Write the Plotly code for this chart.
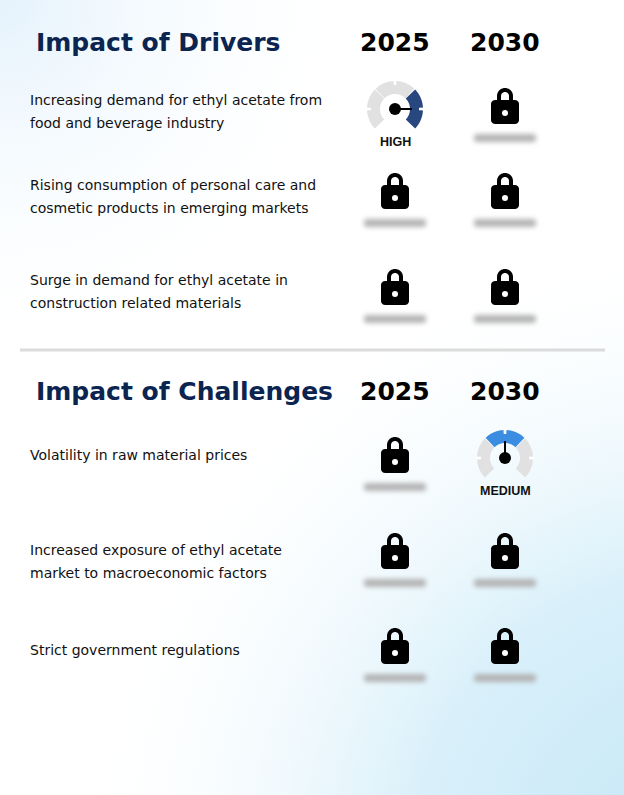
import base64
import math
import plotly.graph_objects as go

# ---- chart content ----
years = ["2025", "2030"]

driver_title = "Impact of Drivers"
driver_labels = [
    ["Increasing demand for ethyl acetate from", "food and beverage industry"],
    ["Rising consumption of personal care and", "cosmetic products in emerging markets"],
    ["Surge in demand for ethyl acetate in", "construction related materials"],
]
driver_2025 = ["HIGH", None, None]      # None -> locked cell
driver_2030 = [None, None, None]

challenge_title = "Impact of Challenges"
challenge_labels = [
    ["Volatility in raw material prices"],
    ["Increased exposure of ethyl acetate", "market to macroeconomic factors"],
    ["Strict government regulations"],
]
challenge_2025 = [None, None, None]
challenge_2030 = ["MEDIUM", None, None]

# ---- layout constants (pixels) ----
W, H = 624, 795
col_x = [395, 505]
driver_head_y, challenge_head_y = 42, 391
driver_row_top = [88, 173, 269]
challenge_row_top = [437, 533, 628]
driver_text_y = [100, 185, 280]
challenge_text_y = [455, 550, 650]
line_gap = 23
level_idx = {"LOW": 0, "MEDIUM": 1, "HIGH": 2}
level_color = {"LOW": "#8fc3ee", "MEDIUM": "#3a8de0", "HIGH": "#27477e"}

TITLE_FONT = dict(family="DejaVu Sans", size=25, color="#0b2450", weight="bold")
YEAR_FONT = dict(family="DejaVu Sans", size=25, color="#000000", weight="bold")
BODY_FONT = dict(family="DejaVu Sans", size=14, color="#111111")
LEVEL_FONT = dict(family="Liberation Sans", size=12.5, color="#111111", weight="bold")


def svg_uri(svg):
    return "data:image/svg+xml;base64," + base64.b64encode(svg.encode()).decode()


def pt(cx, cy, r, a):
    # a in degrees, clockwise from 12 o'clock, y axis points down
    t = math.radians(a)
    return cx + r * math.sin(t), cy - r * math.cos(t)


def arc(cx, cy, r, a0, a1, n=30):
    return [pt(cx, cy, r, a0 + (a1 - a0) * i / n) for i in range(n + 1)]


def poly_path(points):
    return "M " + " L ".join(f"{x:.2f},{y:.2f}" for x, y in points) + " Z"


def line_path(points):
    return "M " + " L ".join(f"{x:.2f},{y:.2f}" for x, y in points)


shapes = []
annotations = []
images = []

# background gradient
bg_svg = (
    f'<svg xmlns="http://www.w3.org/2000/svg" width="{W}" height="{H}">'
    '<defs>'
    '<radialGradient id="br" gradientUnits="userSpaceOnUse" cx="700" cy="860" r="640">'
    '<stop offset="0" stop-color="#c4e6f6"/><stop offset="0.45" stop-color="#d9f0fa"/>'
    '<stop offset="1" stop-color="#ffffff" stop-opacity="0"/></radialGradient>'
    '<radialGradient id="tl" gradientUnits="userSpaceOnUse" cx="0" cy="0" r="380">'
    '<stop offset="0" stop-color="#e4f2fc"/>'
    '<stop offset="1" stop-color="#ffffff" stop-opacity="0"/></radialGradient>'
    '</defs>'
    f'<rect width="{W}" height="{H}" fill="#ffffff"/>'
    f'<rect width="{W}" height="{H}" fill="url(#tl)"/>'
    f'<rect width="{W}" height="{H}" fill="url(#br)"/>'
    '</svg>'
)
images.append(dict(source=svg_uri(bg_svg), xref="paper", yref="paper", x=0, y=1,
                   sizex=1, sizey=1, xanchor="left", yanchor="top",
                   sizing="stretch", layer="below"))

blur_svg = (
    '<svg xmlns="http://www.w3.org/2000/svg" width="80" height="20">'
    '<defs><filter id="b" x="-30%" y="-150%" width="160%" height="400%">'
    '<feGaussianBlur stdDeviation="2.8"/></filter></defs>'
    '<g filter="url(#b)" fill="#b4b4b4">'
    '<rect x="9" y="6" width="62" height="8" rx="3"/>'
    '</g></svg>'
)
blur_uri = svg_uri(blur_svg)


def add_lock(cx, top):
    # shackle
    pts = [(cx - 6, top + 13)] + arc(cx, top + 8, 6, -90, 90, 20) + [(cx + 6, top + 13)]
    shapes.append(dict(type="path", path=line_path(pts), line=dict(color="#000", width=4)))
    # body with rounded corners
    x0, x1, y0, y1, r = cx - 14, cx + 14, top + 12, top + 36, 4
    body = (arc(x0 + r, y0 + r, r, -90, 0, 6) + arc(x1 - r, y0 + r, r, 0, 90, 6)
            + arc(x1 - r, y1 - r, r, 90, 180, 6) + arc(x0 + r, y1 - r, r, 180, 270, 6))
    shapes.append(dict(type="path", path=poly_path(body), fillcolor="#000",
                       line=dict(width=0)))
    shapes.append(dict(type="circle", x0=cx - 3, x1=cx + 3, y0=top + 22, y1=top + 28,
                       fillcolor="#ffffff", line=dict(width=0)))
    # blurred placeholder
    images.append(dict(source=blur_uri, xref="paper", yref="paper",
                       x=(cx - 40) / W, y=1 - (top + 40) / H, sizex=80 / W, sizey=20 / H,
                       xanchor="left", yanchor="top", sizing="stretch", layer="above"))


def add_gauge(cx, top, level):
    cy = top + 21
    r_in, r_out = 15, 28
    active = level_idx[level]
    spans = [(-135, -45), (-45, 45), (45, 135)]
    for i, (a0, a1) in enumerate(spans):
        ring = arc(cx, cy, r_out, a0 + 1, a1 - 1) + arc(cx, cy, r_in, a1 - 1, a0 + 1)
        color = level_color[level] if i == active else "#e1e1e1"
        shapes.append(dict(type="path", path=poly_path(ring), fillcolor=color,
                           line=dict(width=0)))
    # small notches on the outer edge
    for a in (-90, 0, 90):
        notch = arc(cx, cy, r_out + 1, a - 3, a + 3, 4) + arc(cx, cy, r_out - 4, a + 3, a - 3, 4)
        shapes.append(dict(type="path", path=poly_path(notch), fillcolor="#ffffff",
                           line=dict(width=0)))
    # needle and hub
    na = (spans[active][0] + spans[active][1]) / 2
    nx, ny = pt(cx, cy, r_in + 2, na)
    shapes.append(dict(type="line", x0=cx, y0=cy, x1=nx, y1=ny,
                       line=dict(color="#000", width=2)))
    shapes.append(dict(type="circle", x0=cx - 6, x1=cx + 6, y0=cy - 6, y1=cy + 6,
                       fillcolor="#000", line=dict(width=0)))
    annotations.append(dict(x=cx, y=top + 54, text=level, showarrow=False,
                            xanchor="center", yanchor="middle", font=LEVEL_FONT))


def add_section(title, head_y, labels, text_y, row_top, col_values):
    annotations.append(dict(x=34, y=head_y, text=title, showarrow=False,
                            xanchor="left", yanchor="middle", font=TITLE_FONT))
    for x, yr in zip(col_x, years):
        annotations.append(dict(x=x, y=head_y, text=yr, showarrow=False,
                                xanchor="center", yanchor="middle", font=YEAR_FONT))
    for i, lines in enumerate(labels):
        for j, ln in enumerate(lines):
            annotations.append(dict(x=28, y=text_y[i] + j * line_gap, text=ln,
                                    showarrow=False, xanchor="left", yanchor="middle",
                                    font=BODY_FONT))
        for x, vals in zip(col_x, col_values):
            if vals[i] is None:
                add_lock(x, row_top[i])
            else:
                add_gauge(x, row_top[i], vals[i])


add_section(driver_title, driver_head_y, driver_labels, driver_text_y,
            driver_row_top, [driver_2025, driver_2030])

shapes.append(dict(type="line", x0=20, x1=605, y0=350, y1=350,
                   line=dict(color="#dcdcdc", width=3)))

add_section(challenge_title, challenge_head_y, challenge_labels, challenge_text_y,
            challenge_row_top, [challenge_2025, challenge_2030])

fig = go.Figure()
fig.update_layout(
    width=W, height=H,
    margin=dict(l=0, r=0, t=0, b=0),
    paper_bgcolor="#ffffff",
    plot_bgcolor="rgba(0,0,0,0)",
    xaxis=dict(range=[0, W], visible=False, fixedrange=True),
    yaxis=dict(range=[H, 0], visible=False, fixedrange=True),
    shapes=shapes,
    annotations=annotations,
    images=images,
    showlegend=False,
)
fig.write_html("out.html", config={"displayModeBar": False},
               post_script="document.body.style.margin='0';document.body.style.overflow='hidden';")
